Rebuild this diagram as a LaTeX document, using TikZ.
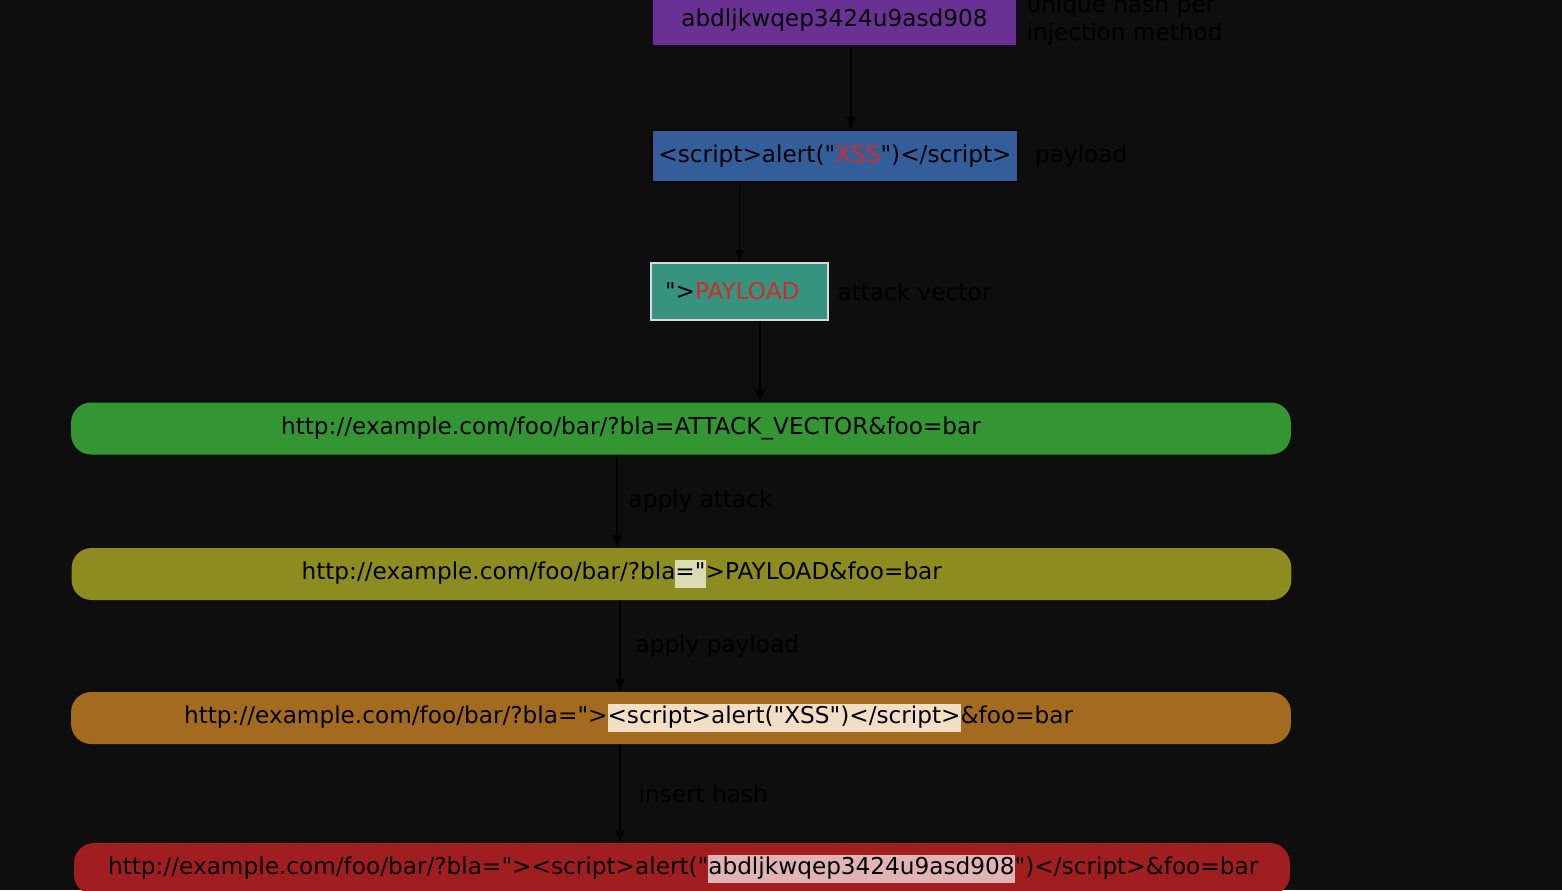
\documentclass[tikz,border=0pt]{standalone}
\usepackage{fontspec}
\setmainfont{DejaVu Sans}[Ligatures=TeXOff]
\usetikzlibrary{positioning,arrows.meta}
\definecolor{bgcolor}{HTML}{0E0E0E}
\definecolor{hashcolor}{HTML}{6A3194}
\definecolor{payloadcolor}{HTML}{335E99}
\definecolor{vectorcolor}{HTML}{35937F}
\definecolor{attackcolor}{HTML}{339633}
\definecolor{appliedcolor}{HTML}{8C8C20}
\definecolor{injectedcolor}{HTML}{A36B20}
\definecolor{hashedcolor}{HTML}{A11E20}
\definecolor{markcolor}{HTML}{D42A2A}
\definecolor{hlolive}{HTML}{DCDCB4}
\definecolor{hlorange}{HTML}{F2DEC4}
\definecolor{hlred}{HTML}{E0B4B4}

\newcommand{\hilite}[2]{{\setlength{\fboxsep}{0pt}\colorbox{#1}{\rule[-5pt]{0pt}{16pt}#2}}}

\tikzset{
    box/.style={rectangle, minimum height=1.04cm, line width=1pt, font=\fontsize{13.2}{16}\selectfont},
    bar/.style={rectangle, rounded corners=0.4cm, minimum height=1.04cm, inner xsep=0pt,
        text width=24.4cm, align=left, font=\fontsize{13.2}{16}\selectfont},
    lbl/.style={font=\fontsize{13.2}{16}\selectfont, text=black},
    arrow/.style={-{Latex[length=7pt,width=5.5pt]}, line width=0.8pt, draw=black}
}

\begin{document}
\begin{tikzpicture}[x=0.02cm, y=-0.02cm]

% Background
    \fill[bgcolor] (0,0) rectangle (1562,890);
    \useasboundingbox (0,0) rectangle (1562,890);

% Boxes
    % Hash
    \node[box, fill=hashcolor, draw=black!80!hashcolor, minimum width=7.3cm] (hash) at (834.5,20)
        {abdljkwqep3424u9asd908};
    % Payload
    \node[box, fill=payloadcolor, draw=black, minimum width=7.32cm] (payload) at (835,156)
        {<script>alert("\textcolor{markcolor}{XSS}")</script>};
    % Attack vector
    \node[box, fill=vectorcolor, draw=white!85!black, minimum height=1.14cm,
        inner xsep=0.28cm, text width=2.98cm, align=left] (vector) at (739.5,291.5)
        {">\textcolor{markcolor}{PAYLOAD}};

% Bars
    \node[bar, fill=attackcolor] (attack) at (681,428.5)
        {\hspace*{4.2cm}http://example.com/foo/bar/?bla=ATTACK\_VECTOR\&foo=bar};
    \node[bar, fill=appliedcolor] (applied) at (681.5,574)
        {\hspace*{4.6cm}http://example.com/foo/bar/?bla\hilite{hlolive}{="}>PAYLOAD\&foo=bar};
    \node[bar, fill=injectedcolor] (injected) at (681,718)
        {\hspace*{2.26cm}http://example.com/foo/bar/?bla=">\hilite{hlorange}{<script>alert("XSS")</script>}\&foo=bar};
    \node[bar, fill=hashedcolor, text width=24.32cm] (hashed) at (682,869)
        {\hspace*{0.68cm}http://example.com/foo/bar/?bla="><script>alert("\hilite{hlred}{abdljkwqep3424u9asd908}")</script>\&foo=bar};

% Right labels
    \node[lbl, right=0.05cm of hash, align=left] (hashlbl) {unique hash per\\injection method};
    \node[lbl, right=0.2cm of payload] (payloadlbl) {payload};
    \node[lbl, right=0.05cm of vector] (vectorlbl) {attack vector};

% Arrows
    \draw[arrow] ([xshift=0.33cm]hash.south) -- ([xshift=0.33cm]hash.south |- payload.north);
    \draw[arrow] (payload.south -| vector.north) -- (vector.north);
    \draw[arrow] ([xshift=0.41cm]vector.south) -- ([xshift=0.41cm]vector.south |- attack.north);
    \draw[arrow] ([xshift=-1.28cm]attack.south) -- ([xshift=-1.28cm]attack.south |- applied.north)
        node[lbl, midway, right, xshift=0.1cm] {apply attack};
    \draw[arrow] ([xshift=-1.23cm]applied.south) -- ([xshift=-1.23cm]applied.south |- injected.north)
        node[lbl, midway, right, xshift=0.18cm] {apply payload};
    \draw[arrow] ([xshift=-1.22cm]injected.south) -- ([xshift=-1.22cm]injected.south |- hashed.north)
        node[lbl, midway, right, xshift=0.24cm] {insert hash};

\end{tikzpicture}
\end{document}
